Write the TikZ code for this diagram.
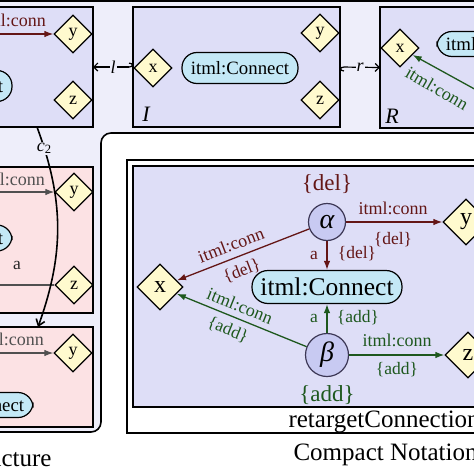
\documentclass[tikz,border=0pt]{standalone}
\usepackage{fontspec}
\setmainfont{Liberation Serif}
\usetikzlibrary{arrows.meta,shapes.geometric}
\definecolor{bgl}{RGB}{238,238,250}
\definecolor{boxl}{RGB}{222,222,247}
\definecolor{pinkb}{RGB}{252,226,228}
\definecolor{bluel}{RGB}{196,232,246}
\definecolor{dyel}{RGB}{255,250,206}
\definecolor{circf}{RGB}{200,202,242}
\definecolor{maroon}{RGB}{100,22,22}
\definecolor{dgreen}{RGB}{30,88,30}
\definecolor{gry}{RGB}{80,80,80}
\definecolor{circd}{RGB}{60,55,85}
\newcommand{\fs}[1]{\fontsize{#1}{#1}\selectfont}
\begin{document}
\begin{tikzpicture}[x=1pt,y=-1pt,
  dias/.style={diamond,draw=black,line width=1.2pt,fill=dyel,inner sep=0pt,minimum size=38pt,font=\fs{18}},
  dial/.style={dias,minimum size=46pt,font=\fs{24}},
  consm/.style={rectangle,rounded corners=15pt,draw=black,line width=1.2pt,fill=bluel,minimum width=116pt,minimum height=31pt,inner sep=0pt,font=\fs{18.8}},
  conlg/.style={consm,rounded corners=16pt,minimum width=150pt,minimum height=33pt,font=\fs{25.5}},
  rbox/.style={draw=black,line width=1.6pt,inner sep=0pt,outer sep=0pt},
  lab/.style={font=\fs{17.5},inner sep=1pt},
  labc/.style={font=\fs{18},inner sep=1pt},
  mar/.style={draw=maroon,line width=1.3pt,-{Latex[length=9pt,width=6.5pt]}},
  grn/.style={draw=dgreen,line width=1.3pt,-{Latex[length=9pt,width=6.5pt]}},
  gra/.style={draw=gry,line width=1.2pt,-{Latex[length=9pt,width=6.5pt]}},
  circ/.style={circle,draw=circd,line width=1.2pt,fill=circf,inner sep=0pt,font=\fs{28}\itshape},
]
\useasboundingbox (0,0) rectangle (474,474);
% structure region
\fill[bgl,rounded corners=10pt] (-20,-20) -- (494,-20) -- (494,133) -- (101,133) -- (101,432) -- (-20,432) -- cycle;
\draw[line width=1.6pt,rounded corners=10pt] (494,133) -- (101,133) -- (101,432) -- (-20,432);
\draw[line width=2.6pt] (-20,1) -- (494,1);
% top row boxes
\node[rbox,fill=boxl,minimum width=243pt,minimum height=120pt,anchor=north east] (L) at (93,7) {};
\node[rbox,fill=boxl,minimum width=207pt,minimum height=120pt,anchor=north west] (I) at (133,7) {};
\node[rbox,fill=boxl,minimum width=220pt,minimum height=121pt,anchor=north west] (R) at (380,7) {};
% L contents
\node[consm] (Lc) at (-46,86) {itml:Connect};
\node[dias] (Ly) at (73,34) {y};
\node[dias] (Lz) at (73,100) {z};
\coordinate (Lf) at (-80,34);
\draw[mar] (Lf) -- (Ly);
\node[labc,text=maroon,anchor=east] (Llab) at (47,20) {itml:conn};
% I contents
\node[dias] (Ix) at (153,68) {x};
\node[consm] (Ic) at (240,68) {itml:Connect};
\node[dias] (Iy) at (320,33) {y};
\node[dias] (Iz) at (320,100) {z};
\node[font=\fs{22}\itshape] (Ilab) at (146,114) {I};
% R contents
\node[dias] (Rx) at (400,48) {x};
\node[consm,minimum height=25pt] (Rc) at (495,44) {itml:Connect};
\coordinate (Rf) at (529,119);
\draw[grn] (Rf) -- (Rx);
\node[labc,text=dgreen,rotate=-30] (Rlab) at (437,88) {itml:conn};
\node[font=\fs{22}\itshape] (Rlbl) at (392,116) {R};
% spans
\draw[line width=1.2pt,{Hooks[left,length=4pt,width=9pt]}-{Straight Barb[length=4pt,width=8pt]}] (I.west) -- node[fill=bgl,inner sep=1pt,font=\fs{18}\itshape]{l} (L.east);
\draw[line width=1.2pt,{Hooks[left,length=4pt,width=9pt]}-{Straight Barb[length=4pt,width=8pt]}] (I.east) -- node[fill=bgl,inner sep=1pt,font=\fs{18}\itshape]{r} (R.west);
% pink boxes
\node[rbox,fill=pinkb,minimum width=243pt,minimum height=146pt,anchor=north east] (P1) at (93,167) {};
\node[rbox,fill=pinkb,minimum width=243pt,minimum height=100pt,anchor=north east] (P2) at (93,327) {};
\node[consm,minimum height=26pt] (P1c) at (-46,238) {itml:Connect};
\node[dias] (P1y) at (74,192) {y};
\node[dias] (P1z) at (74,285) {z};
\coordinate (P1f) at (-80,192);
\draw[gra] (P1f) -- (P1y);
\node[labc,text=gry,anchor=east] (P1lab) at (46,179) {itml:conn};
\coordinate (P1g) at (-80,285);
\draw[draw=gry,line width=1.2pt] (P1g) -- (P1z);
\node[lab,text=black!85] (P1a) at (17,265) {a};
\node[consm,minimum height=25pt] (P2c) at (-25,405) {itml:Connect};
\node[dias] (P2y) at (73,353) {y};
\coordinate (P2f) at (-80,353);
\draw[gra] (P2f) -- (P2y);
\node[labc,text=gry,anchor=east] (P2lab) at (45,339) {itml:conn};
% c2 morphism
\coordinate (c2s) at (37,127);
\coordinate (c2e) at (38,327);
\draw[line width=1.6pt,-{Straight Barb[length=6pt,width=9pt]}] (c2s) to[bend left=20] node[pos=0.1,fill=bgl,inner sep=1pt,font=\fs{18}]{\textit{c}\textsubscript{2}} (c2e);
% caption structure
\node[font=\fs{25},anchor=base east] (capS) at (55,466) {Structure};
% compact notation
\node[rbox,fill=white,minimum width=480pt,minimum height=273pt,anchor=north west] (CO) at (127,160) {};
\node[rbox,fill=boxl,minimum width=470pt,minimum height=241pt,anchor=north west] (CI) at (133,166) {};
\node[circ,minimum size=37pt] (al) at (327,222) {α};
\node[circ,minimum size=43pt] (be) at (327,355) {β};
\node[dial] (Cx) at (160,287) {x};
\node[dial] (Cy) at (466,222) {y};
\node[dial] (Cz) at (468,355) {z};
\node[conlg] (Cc) at (327,287) {itml:Connect};
\draw[mar] (al) -- (Cy);
\draw[mar] (al) -- (Cc);
\draw[mar] (al) -- (Cx);
\draw[grn] (be) -- (Cc);
\draw[grn] (be) -- (Cx);
\draw[grn] (be) -- (Cz);
\node[labc,text=maroon] (l1) at (393,208) {itml:conn};
\node[lab,text=maroon] (l2) at (393,240) {\{del\}};
\node[lab,text=maroon] (l3) at (314,255) {a};
\node[lab,text=maroon] (l4) at (357,254) {\{del\}};
\node[labc,text=maroon,rotate=21] (l5) at (231,245) {itml:conn};
\node[lab,text=maroon,rotate=21] (l6) at (242,271) {\{del\}};
\node[lab,text=dgreen] (l7) at (314,318) {a};
\node[lab,text=dgreen] (l8) at (358,318) {\{add\}};
\node[labc,text=dgreen,rotate=-22] (l9) at (240,306) {itml:conn};
\node[lab,text=dgreen,rotate=-22] (l10) at (228,330) {\{add\}};
\node[labc,text=dgreen] (l11) at (397,340) {itml:conn};
\node[lab,text=dgreen] (l12) at (397,370) {\{add\}};
\node[font=\fs{23},text=maroon] (tdel) at (327,184) {\{del\}};
\node[font=\fs{23},text=dgreen] (tadd) at (327,395) {\{add\}};
\node[font=\fs{25},anchor=base west] (rc) at (285,427) {retargetConnection};
\node[font=\fs{25},anchor=base west] (cn) at (290,460) {Compact Notation};
\end{tikzpicture}
\end{document}
